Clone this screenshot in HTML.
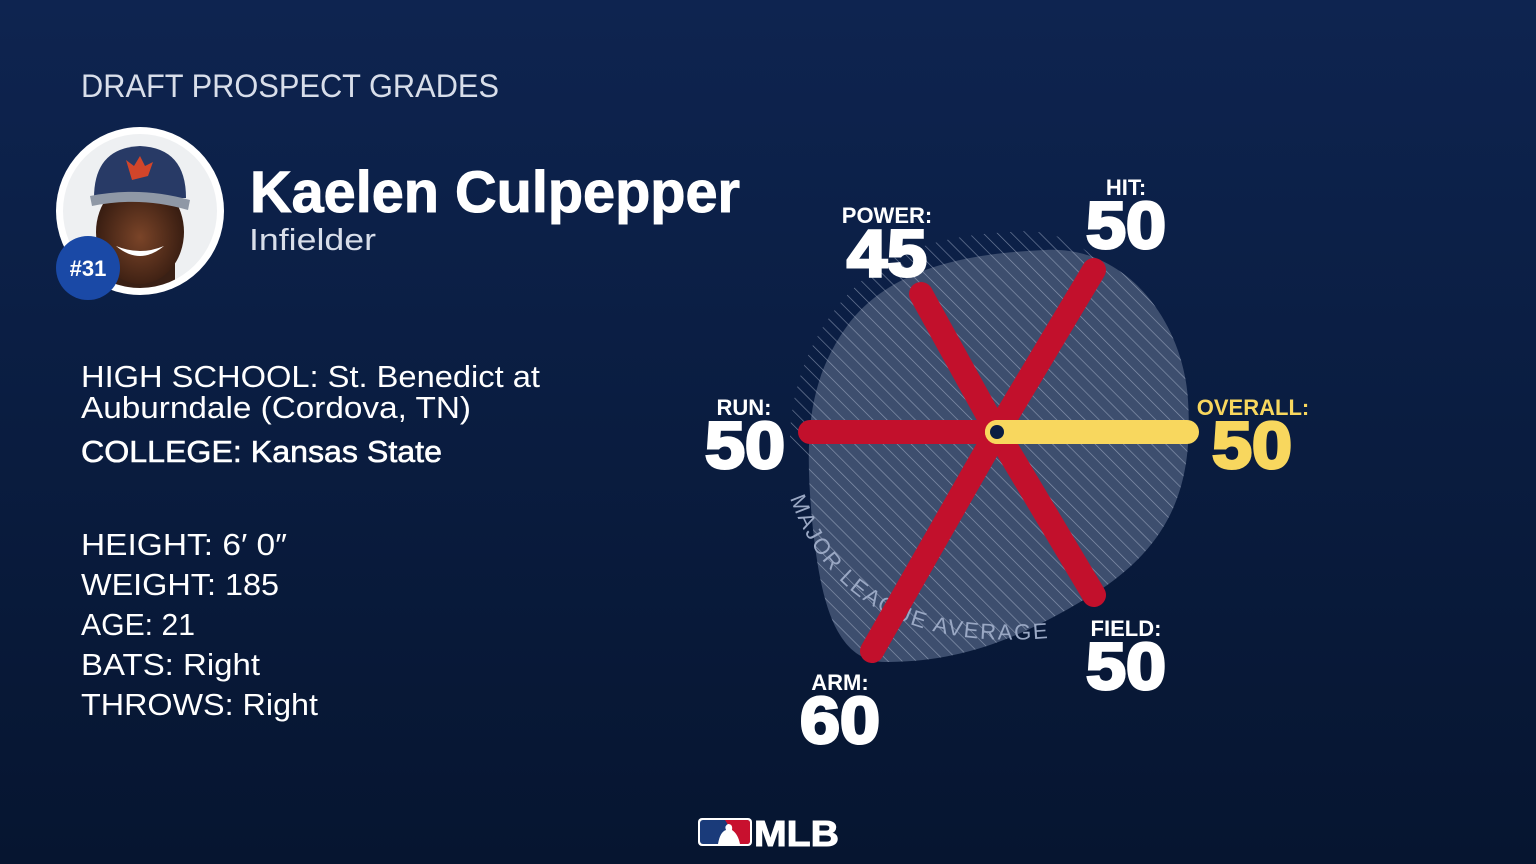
<!DOCTYPE html>
<html><head><meta charset="utf-8"><style>
html,body{margin:0;padding:0;width:1536px;height:864px;overflow:hidden;background:#0a1d42}
svg{display:block}
</style></head><body>
<svg width="1536" height="864" viewBox="0 0 1536 864" xmlns="http://www.w3.org/2000/svg" font-family="Liberation Sans, sans-serif">
<defs>
<linearGradient id="bg" x1="0" y1="0" x2="0" y2="1">
<stop offset="0" stop-color="#0e2450"/><stop offset="1" stop-color="#061530"/>
</linearGradient>
<pattern id="hatch" width="10" height="10" patternUnits="userSpaceOnUse" patternTransform="rotate(-45)">
<line x1="0" y1="0" x2="0" y2="10" stroke="#c9d3e6" stroke-opacity="0.55" stroke-width="1.3"/>
</pattern>
<radialGradient id="face" cx="0.5" cy="0.55" r="0.5">
<stop offset="0" stop-color="#7a4428"/><stop offset="1" stop-color="#3a1e12"/>
</radialGradient>
<clipPath id="pc"><circle cx="140" cy="211" r="77"/></clipPath>
<path id="arc" d="M 790 498 Q 845 655 1048 638"/>
</defs>
<rect width="1536" height="864" fill="url(#bg)"/>

<text x="81" y="97" font-size="32" fill="#d8deea" textLength="418" lengthAdjust="spacingAndGlyphs">DRAFT PROSPECT GRADES</text>

<!-- photo -->
<circle cx="140" cy="211" r="84" fill="#ffffff"/>
<circle cx="140" cy="211" r="77" fill="#eef0f2"/>
<g clip-path="url(#pc)">
<rect x="105" y="262" width="70" height="40" fill="#3a2015"/>
<ellipse cx="140" cy="232" rx="44" ry="52" fill="url(#face)"/>
<path d="M 116 246 Q 140 266 164 246 Q 140 256 116 246 Z" fill="#fff"/>
<path d="M 94 198 Q 94 148 140 146 Q 186 148 186 198 Z" fill="#283a66"/>
<path d="M 90 196 Q 140 186 190 200 L 188 210 Q 140 196 92 206 Z" fill="#8f98a6"/>
<path d="M 126 160 l 8 6 6 -10 5 10 8 -4 -5 14 -16 4 z" fill="#d2452a"/>
</g>
<circle cx="88" cy="268" r="32" fill="#1a49a6"/>
<text x="88" y="276" font-size="22" font-weight="bold" fill="#fff" text-anchor="middle">#31</text>

<text x="250" y="212" font-size="58" font-weight="bold" fill="#fff" stroke="#fff" stroke-width="1" textLength="490" lengthAdjust="spacingAndGlyphs">Kaelen Culpepper</text>
<text x="249" y="250" font-size="31" fill="#d8deea" textLength="127" lengthAdjust="spacingAndGlyphs">Infielder</text>

<g font-size="31" fill="#fff">
<text x="81" y="387" textLength="459" lengthAdjust="spacingAndGlyphs">HIGH SCHOOL: St. Benedict at</text>
<text x="81" y="418" textLength="390" lengthAdjust="spacingAndGlyphs">Auburndale (Cordova, TN)</text>
<text x="81" y="462" textLength="361" lengthAdjust="spacingAndGlyphs" stroke="#fff" stroke-width="0.6">COLLEGE: Kansas State</text>
<text x="81" y="555" textLength="206" lengthAdjust="spacingAndGlyphs">HEIGHT: 6′ 0″</text>
<text x="81" y="595" textLength="198" lengthAdjust="spacingAndGlyphs">WEIGHT: 185</text>
<text x="81" y="635" textLength="114" lengthAdjust="spacingAndGlyphs">AGE: 21</text>
<text x="81" y="675" textLength="179" lengthAdjust="spacingAndGlyphs">BATS: Right</text>
<text x="81" y="715" textLength="237" lengthAdjust="spacingAndGlyphs">THROWS: Right</text>
</g>

<!-- chart -->
<path d="M 1010 232 C 1090 222 1150 300 1160 380 C 1160 440 1100 500 1050 520 C 950 520 820 500 790 440 C 790 370 830 290 900 255 C 940 238 975 234 1010 232 Z" fill="url(#hatch)"/>
<path d="M 1045 250 C 1125 245 1183 320 1188 400 C 1193 480 1175 540 1100 590 C 1020 640 960 662 885 662 C 835 662 820 600 812 520 C 805 440 806 380 850 322 C 895 265 975 253 1045 250 Z" fill="#3d4e6e"/>
<path d="M 1045 250 C 1125 245 1183 320 1188 400 C 1193 480 1175 540 1100 590 C 1020 640 960 662 885 662 C 835 662 820 600 812 520 C 805 440 806 380 850 322 C 895 265 975 253 1045 250 Z" fill="url(#hatch)"/>

<text font-size="22" fill="#9aa8c4" letter-spacing="2"><textPath href="#arc">MAJOR LEAGUE AVERAGE</textPath></text>

<g stroke="#c2102c" stroke-width="24" stroke-linecap="round">
<line x1="997" y1="432" x2="810" y2="432"/>
<line x1="997" y1="432" x2="1094" y2="270"/>
<line x1="997" y1="432" x2="921" y2="294"/>
<line x1="997" y1="432" x2="1094" y2="595"/>
<line x1="997" y1="432" x2="872" y2="651"/>
</g>
<line x1="997" y1="432" x2="1187" y2="432" stroke="#f8d75e" stroke-width="24" stroke-linecap="round"/>
<circle cx="997" cy="432" r="12" fill="#f8d75e"/>
<circle cx="997" cy="432" r="7" fill="#0a1d42"/>

<g font-weight="bold" fill="#fff" text-anchor="middle">
<text x="887" y="223" font-size="22">POWER:</text>
<text x="887" y="276" font-size="66" stroke="#fff" stroke-width="3" textLength="80" lengthAdjust="spacingAndGlyphs">45</text>
<text x="1126" y="195" font-size="22">HIT:</text>
<text x="1126" y="248" font-size="66" stroke="#fff" stroke-width="3" textLength="80" lengthAdjust="spacingAndGlyphs">50</text>
<text x="744" y="415" font-size="22">RUN:</text>
<text x="745" y="468" font-size="66" stroke="#fff" stroke-width="3" textLength="80" lengthAdjust="spacingAndGlyphs">50</text>
<text x="1126" y="636" font-size="22">FIELD:</text>
<text x="1126" y="689" font-size="66" stroke="#fff" stroke-width="3" textLength="80" lengthAdjust="spacingAndGlyphs">50</text>
<text x="840" y="690" font-size="22">ARM:</text>
<text x="840" y="743" font-size="66" stroke="#fff" stroke-width="3" textLength="80" lengthAdjust="spacingAndGlyphs">60</text>
<text x="1253" y="415" font-size="22" fill="#f8d75e">OVERALL:</text>
<text x="1252" y="468" font-size="66" fill="#f8d75e" stroke="#f8d75e" stroke-width="3" textLength="80" lengthAdjust="spacingAndGlyphs">50</text>
</g>

<!-- MLB logo -->
<rect x="698" y="818" width="54" height="28" rx="4" fill="#fff"/>
<rect x="700" y="820" width="50" height="24" rx="3" fill="#1a3b7a"/>
<path d="M 725 820 L 747 820 Q 750 820 750 823 L 750 841 Q 750 844 747 844 L 740 844 Z" fill="#c8102e"/>
<path d="M 718 844 Q 720 832 726 830 Q 724 826 728 824 Q 733 824 732 830 Q 738 834 740 844 Z" fill="#fff"/>
<text x="754" y="846" font-size="36" font-weight="bold" fill="#fff" stroke="#fff" stroke-width="1" textLength="85" lengthAdjust="spacingAndGlyphs">MLB</text>
</svg>
</body></html>
